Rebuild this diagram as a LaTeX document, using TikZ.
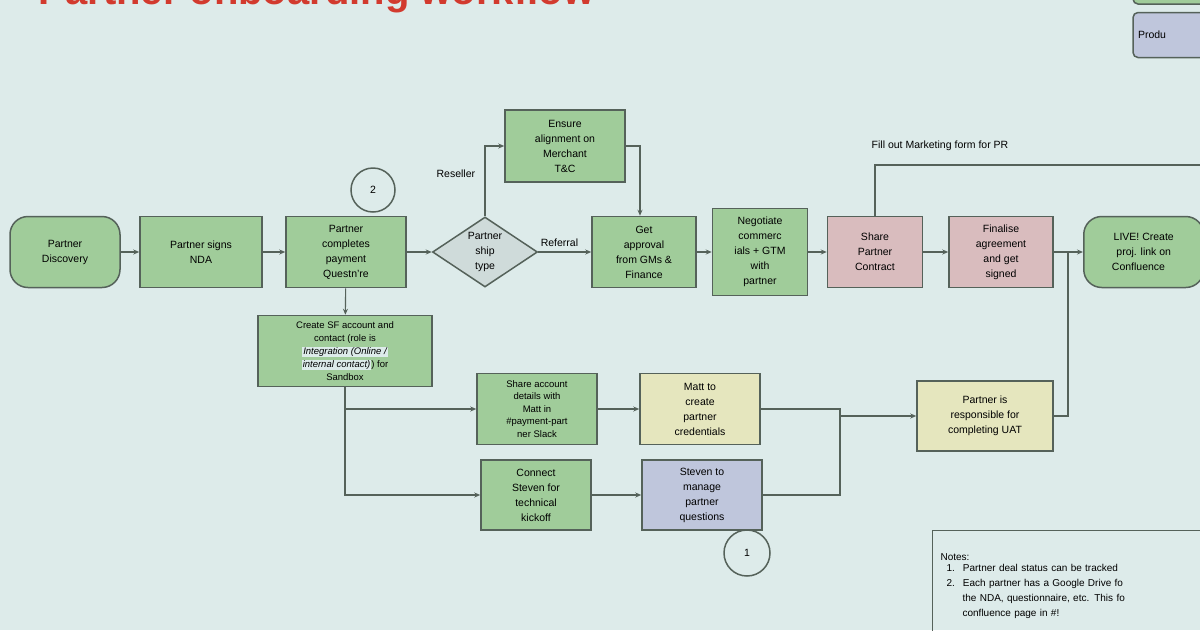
\documentclass[tikz,border=0pt]{standalone}
\usepackage{fontspec}
\setmainfont{Liberation Sans}
\usetikzlibrary{shapes.geometric,arrows.meta}
\definecolor{bgc}{HTML}{DDEBEA}
\definecolor{grn}{HTML}{A0CC9A}
\definecolor{pnk}{HTML}{D9BCBE}
\definecolor{ylw}{HTML}{E5E6BE}
\definecolor{lav}{HTML}{BFC6DC}
\definecolor{edg}{HTML}{55625A}
\definecolor{ttl}{HTML}{D23A2E}
\begin{document}
\begin{tikzpicture}[x=1pt,y=-1pt]
\clip (0,0) rectangle (1200,630);
\fill[bgc] (0,0) rectangle (1200,630);

\tikzset{BoxStyle/.style = {draw=edg, line width=1.5pt, fill=grn,
 align=center, font=\fontsize{10.5}{15}\selectfont, inner sep=2pt},
 Conn/.style = {draw=edg, line width=1.1pt, -{Stealth[length=6pt,width=5pt]}},
 Line/.style = {draw=edg, line width=1.1pt}}

% title and legend
\node[anchor=base west, text=ttl, font=\fontsize{40}{40}\bfseries\selectfont] (T) at (35,4) {Partner onboarding workflow};
\node[BoxStyle, rounded corners=5pt, minimum width=80pt, minimum height=40pt] (L1) at (1173,-16) {};
\node[BoxStyle, fill=lav, rounded corners=5pt, minimum width=80pt, minimum height=45pt, text width=70pt, align=left] (L2) at (1173,35) {Produ};

% main row
\node[BoxStyle, rounded corners=18pt, minimum width=110pt, minimum height=71pt] (N1) at (65,252) {Partner\\Discovery};
\node[BoxStyle, minimum width=122pt, minimum height=71pt] (N2) at (201,252) {Partner signs\\NDA};
\node[BoxStyle, minimum width=120pt, minimum height=71pt] (N3) at (346,252) {Partner\\completes\\payment\\Questn're};
\node[BoxStyle, fill=bgc!85!gray, shape=diamond, aspect=1.5, minimum width=105pt, minimum height=70pt, inner sep=0pt] (N4) at (485,252) {Partner\\ship\\type};
\node[BoxStyle, minimum width=120pt, minimum height=72pt] (N5) at (565,146) {Ensure\\alignment on\\Merchant\\T\&C};
\node[BoxStyle, minimum width=104pt, minimum height=71pt] (N6) at (644,252) {Get\\approval\\from GMs \&\\Finance};
\node[BoxStyle, minimum width=95pt, minimum height=87pt] (N7) at (760,252) {Negotiate\\commerc\\ials + GTM\\with\\partner};
\node[BoxStyle, fill=pnk, minimum width=95pt, minimum height=71pt] (N8) at (875,252) {Share\\Partner\\Contract};
\node[BoxStyle, fill=pnk, minimum width=104pt, minimum height=71pt] (N9) at (1001,252) {Finalise\\agreement\\and get\\signed};
\node[BoxStyle, rounded corners=18pt, minimum width=120pt, minimum height=71pt, anchor=west] (N10) at (1083,252) {LIVE! Create\\proj. link on\\Confluence\phantom{xx}};

% lower rows
\node[BoxStyle, minimum width=174pt, minimum height=71pt, font=\fontsize{9.5}{13}\selectfont] (N11) at (345,351) {Create SF account and\\contact (role is\\{\fboxsep=1pt\colorbox{bgc}{\itshape Integration (Online /}}\\{\fboxsep=1pt\colorbox{bgc}{\itshape internal contact)}}) for\\Sandbox};
\node[BoxStyle, minimum width=120pt, minimum height=71pt, font=\fontsize{9.5}{12.5}\selectfont] (N12) at (537,409) {Share account\\details with\\Matt in\\\#payment-part\\ner Slack};
\node[BoxStyle, fill=ylw, minimum width=120pt, minimum height=71pt] (N13) at (700,409) {Matt to\\create\\partner\\credentials};
\node[BoxStyle, minimum width=110pt, minimum height=70pt] (N14) at (536,495) {Connect\\Steven for\\technical\\kickoff};
\node[BoxStyle, fill=lav, minimum width=120pt, minimum height=70pt] (N15) at (702,495) {Steven to\\manage\\partner\\questions};
\node[BoxStyle, fill=ylw, minimum width=136pt, minimum height=70pt] (N16) at (985,416) {Partner is\\responsible for\\completing UAT};

% markers
\node[BoxStyle, fill=bgc, circle, minimum size=44pt] (C2) at (373,190) {2};
\node[BoxStyle, fill=bgc, circle, minimum size=46pt] (C1) at (747,553) {1};

% notes
\node[draw=edg, line width=1.2pt, anchor=north west, minimum width=300pt, minimum height=110pt, align=left, text width=285pt, font=\fontsize{10}{15}\selectfont, inner sep=8pt] (NB) at (932,530) {\vspace*{-4pt}Notes:\\
\hspace*{6pt}1.\hspace{8pt}Partner deal status can be tracked\\
\hspace*{6pt}2.\hspace{8pt}Each partner has a Google Drive fo\\
\hspace*{22pt}the NDA, questionnaire, etc. This fo\\
\hspace*{22pt}confluence page in \#!};

\coordinate (J1) at (840,416);
\coordinate (J2) at (1068,252);

% connectors
\draw[Conn] (N1) -- (N2);
\draw[Conn] (N2) -- (N3);
\draw[Conn] (N3) -- (N4);
\draw[Conn] (N4) -- node[above, font=\fontsize{10.5}{12}\selectfont, pos=0.4, yshift=2pt] {Referral} (N6);
\draw[Conn] (N4.north) |- node[left, pos=0.3, font=\fontsize{10.5}{12}\selectfont, xshift=-6pt] {Reseller} (N5.west);
\draw[Conn] (N5.east) -| (N6.north -| 640,0);
\draw[Conn] (N6) -- (N7);
\draw[Conn] (N7) -- (N8);
\draw[Conn] (N8) -- (N9);
\draw[Conn] (N9) -- (N10);
\draw[Line] (N8.north) |- (1210,165);
\node[font=\fontsize{10.5}{12}\selectfont] (MK) at (940,146) {Fill out Marketing form for PR};
\draw[Conn] (N3) -- (N11);
\draw[Conn] (N11.south) |- (N14.west);
\draw[Conn] (N11.south |- N12.west) -- (N12.west);
\draw[Conn] (N12) -- (N13);
\draw[Conn] (N14) -- (N15);
\draw[Line] (N13.east) -| (J1);
\draw[Line] (N15.east) -| (J1);
\draw[Conn] (J1) -- (N16);
\draw[Line] (N16.east) -| (J2);
\end{tikzpicture}
\end{document}
